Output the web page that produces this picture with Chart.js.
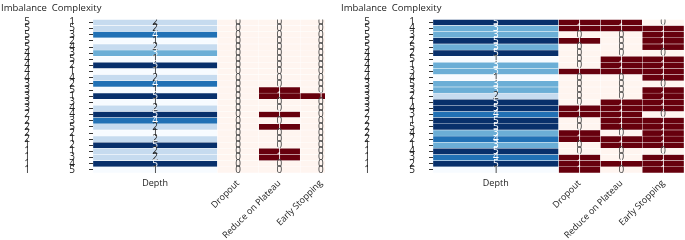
<!DOCTYPE html>
<html>
<head>
  <title>Heatmap - Imbalance / Complexity</title>
  <script src="https://cdn.jsdelivr.net/npm/chart.js"></script>
  <style>
    body {
      margin: 0;
      background-color: #fff;
    }
    canvas {
      position: absolute;
      top: 0;
    }
    #leftChart { left: 0; }
    #rightChart { left: 340px; }
  </style>
</head>
<body>
  <canvas id="leftChart" width="335" height="240"></canvas>
  <canvas id="rightChart" width="345" height="240"></canvas>

  <script>
    const flagLabels = ['Dropout', 'Reduce on Plateau', 'Early Stopping'];

    const leftImbalance  = [5,5,5,5,5, 4,4,4,4,4, 3,3,3,3,3, 2,2,2,2,2, 1,1,1,1,1];
    const leftComplexity = [1,5,3,2,4, 3,5,2,1,4, 2,5,1,3,4, 4,3,5,2,1, 2,1,3,4,5];
    const leftDepth      = [2,2,4,1,2, 3,1,5,1,2, 4,1,5,1,2, 5,4,2,1,2, 5,2,2,5,1];
    const leftDropout    = [0,0,0,0,0, 0,0,0,0,0, 0,0,0,0,0, 0,0,0,0,0, 0,0,0,0,0];
    const leftPlateau    = [0,0,0,0,0, 0,0,0,0,0, 0,1,1,0,0, 1,0,1,0,0, 0,1,1,0,0];
    const leftEarly      = [0,0,0,0,0, 0,0,0,0,0, 0,0,1,0,0, 0,0,0,0,0, 0,0,0,0,0];

    const rightImbalance  = [5,5,5,5,5, 4,4,4,4,4, 3,3,3,3,3, 2,2,2,2,2, 1,1,1,1,1];
    const rightComplexity = [1,4,3,2,5, 2,5,1,3,4, 5,3,2,1,4, 3,1,5,4,2, 1,4,3,2,5];
    const rightDepth      = [5,3,3,5,3, 5,1,3,3,1, 3,3,2,5,5, 4,5,5,3,4, 3,5,4,5,1];
    const rightDropout    = [1,1,0,1,0, 0,0,0,1,0, 0,0,0,0,1, 1,0,0,1,1, 0,0,1,1,1];
    const rightPlateau    = [1,1,0,0,0, 0,1,1,1,0, 0,0,0,1,1, 1,1,1,0,1, 1,0,0,1,0];
    const rightEarly      = [0,1,1,1,1, 0,1,1,1,1, 0,1,1,1,1, 0,1,1,1,1, 1,0,1,1,1];

    // colormaps (Blues for depth 1..5, Reds for 0/1)
    const blues = { 1: '#f7fbff', 2: '#c6dbef', 3: '#6baed6', 4: '#2171b5', 5: '#08306b' };
    const reds = { 0: '#fff5f0', 1: '#67000d' };
    const font = "'Open Sans', sans-serif";
    Chart.defaults.font.family = font;
    Chart.defaults.color = '#222';

    const cellText = {
      id: 'cellText',
      afterDatasetsDraw(chart) {
        const ctx = chart.ctx;
        const a = chart.chartArea;
        ctx.save();
        ctx.beginPath();
        ctx.rect(a.left, a.top, a.right - a.left, a.bottom - a.top + 6);
        ctx.clip();
        ctx.font = "10px " + font;
        ctx.textAlign = 'center';
        ctx.textBaseline = 'middle';
        chart.data.datasets.forEach((ds, i) => {
          chart.getDatasetMeta(i).data.forEach((bar, j) => {
            const v = ds.values[j];
            ctx.fillStyle = ds.textColor(v);
            ctx.fillText(String(v), (bar.x + bar.base) / 2, bar.y);
          });
        });
        ctx.restore();
      }
    };

    function cellSet(values, span, cmap, textColor) {
      return {
        data: values.map(() => span),
        values: values,
        textColor: textColor,
        backgroundColor: values.map(v => cmap[v]),
        borderColor: 'rgba(255,255,255,0.75)',
        borderWidth: 0.5,
        borderSkipped: false,
        barPercentage: 1,
        categoryPercentage: 1
      };
    }

    // stop the row labels from pushing the plot down
    function noPad(s, w) {
      s.width = w;
      s.paddingTop = 0;
      s.paddingBottom = 0;
    }

    function createPanel(id, imbalance, complexity, depth, dropout, plateau, early, xMax, padRight) {
      const flagText = v => v ? '#fff' : '#444';
      new Chart(document.getElementById(id), {
        type: 'bar',
        data: {
          labels: complexity,
          datasets: [
            cellSet(depth, 3, blues, v => v >= 3 ? '#fff' : '#262626'),
            cellSet(dropout, 1, reds, flagText),
            cellSet(plateau, 1, reds, flagText),
            cellSet(early, 1, reds, flagText)
          ]
        },
        plugins: [cellText],
        options: {
          indexAxis: 'y',
          responsive: false,
          animation: false,
          events: [],
          layout: { padding: { left: 1, right: padRight, top: 0, bottom: 0 } },
          plugins: {
            legend: { display: false },
            tooltip: { enabled: false },
            title: {
              display: true,
              text: 'Imbalance  Complexity',
              align: 'start',
              color: '#222',
              font: { size: 9.5, weight: 'normal' },
              padding: { top: 3, bottom: 5 }
            }
          },
          scales: {
            x: {
              type: 'linear',
              stacked: true,
              min: 0,
              max: xMax,
              grid: { display: false, drawTicks: false },
              border: { display: false },
              afterBuildTicks: s => { s.ticks = [3.5, 4.5, 5.5].map(v => ({ value: v })); },
              afterFit: s => { s.height = 67; },
              ticks: {
                autoSkip: false,
                minRotation: 45,
                maxRotation: 45,
                padding: 5,
                font: { size: 9 },
                callback: (v, i) => flagLabels[i]
              }
            },
            xd: {
              type: 'linear',
              position: { y: 24.5 },
              min: 0,
              max: xMax,
              grid: { display: false, drawTicks: false },
              border: { display: false },
              afterBuildTicks: s => { s.ticks = [{ value: 1.5 }]; },
              ticks: {
                maxRotation: 0,
                padding: 5,
                font: { size: 9 },
                callback: () => 'Depth'
              }
            },
            y: {
              type: 'category',
              stacked: true,
              offset: true,
              weight: 0,
              grid: { display: true, drawOnChartArea: false, drawTicks: true, tickLength: 4, offset: false, color: '#333' },
              border: { display: false },
              afterFit: s => noPad(s, 40),
              ticks: { autoSkip: false, padding: 14, font: { size: 10 } }
            },
            y2: {
              type: 'category',
              position: 'left',
              labels: imbalance.map(String),
              offset: true,
              weight: 1,
              grid: { display: false, drawTicks: false },
              border: { display: false },
              afterFit: s => noPad(s, 52),
              ticks: { autoSkip: false, padding: 23, font: { size: 10 } }
            }
          }
        }
      });
    }

    window.onload = function() {
      createPanel('leftChart', leftImbalance, leftComplexity, leftDepth, leftDropout, leftPlateau, leftEarly, 5.6, 10);
      createPanel('rightChart', rightImbalance, rightComplexity, rightDepth, rightDropout, rightPlateau, rightEarly, 6, 1);
    };
  </script>
</body>
</html>
